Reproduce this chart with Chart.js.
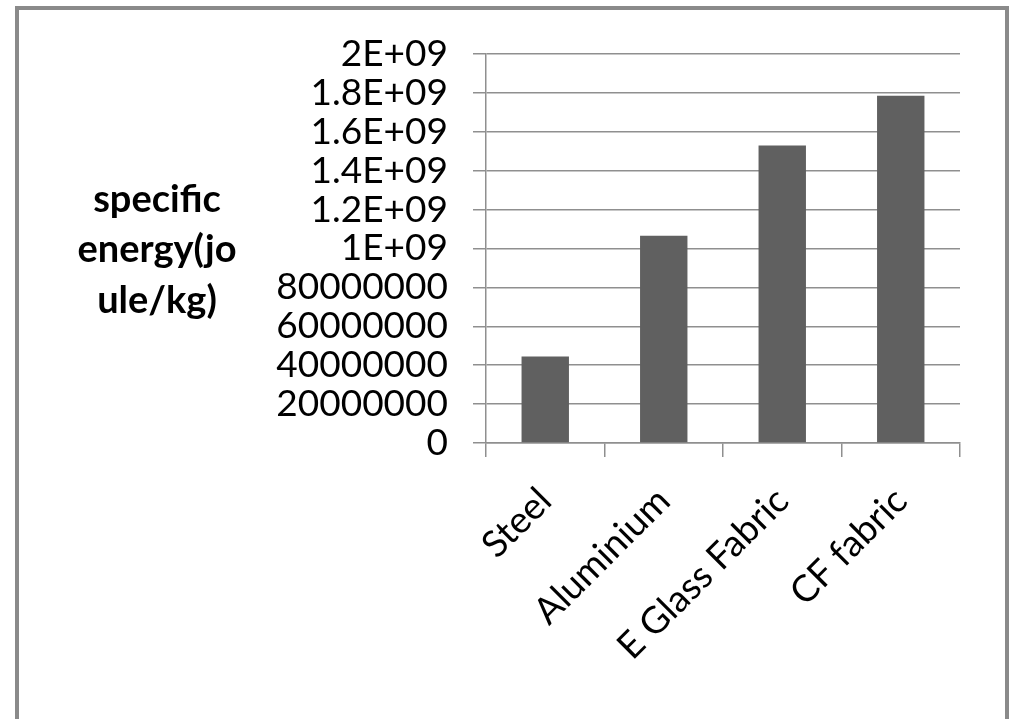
<!DOCTYPE html>
<html>
<head>
<meta charset="utf-8">
<script src="https://cdn.jsdelivr.net/npm/chart.js@4.4.1/dist/chart.umd.min.js"></script>
<style>
  html, body { margin: 0; padding: 0; background: #ffffff; overflow: hidden; }
  #frame { position: absolute; left: 15px; top: 6px; width: 986px; height: 800px;
           border: 4px solid #8a8a8a; border-bottom: none; }
  #wrap { position: absolute; left: 0; top: 0; width: 1026px; height: 719px; }
</style>
</head>
<body>
<div id="frame"></div>
<div id="wrap"><canvas id="c" width="1026" height="719"></canvas></div>
<script>
// ---- data ----
const categories = ["Steel", "Aluminium", "E Glass Fabric", "CF fabric"];
const specificEnergy = [4.45e8, 1.065e9, 1.53e9, 1.785e9];
const yTickLabels = ["0", "20000000", "40000000", "60000000", "80000000",
                     "1E+09", "1.2E+09", "1.4E+09", "1.6E+09", "1.8E+09", "2E+09"];
const yAxisTitle = ["specific", "energy(jo", "ule/kg)"];

const FONT = "Lato, 'Open Sans', sans-serif";
const GRID = "#8f8f8f";

const titlePlugin = {
  id: "yTitle",
  afterDraw(chart) {
    const ctx = chart.ctx;
    ctx.save();
    ctx.fillStyle = "#000";
    ctx.font = "bold 38px " + FONT;
    ctx.textAlign = "center";
    ctx.textBaseline = "alphabetic";
    const baselines = [212, 262, 313];
    yAxisTitle.forEach((t, i) => ctx.fillText(t, 157, baselines[i]));
    ctx.restore();
  }
};

new Chart(document.getElementById("c"), {
  type: "bar",
  data: {
    labels: categories,
    datasets: [{
      data: specificEnergy,
      backgroundColor: "#606060",
      borderWidth: 0,
      categoryPercentage: 1.0,
      barPercentage: 0.4
    }]
  },
  options: {
    responsive: false,
    animation: false,
    devicePixelRatio: 1,
    layout: { padding: { left: 0, right: 66, top: 54, bottom: 0 } },
    plugins: { legend: { display: false }, tooltip: { enabled: false }, title: { display: false } },
    scales: {
      y: {
        min: 0, max: 2e9,
        afterFit(s) { s.width = 486; },
        ticks: {
          stepSize: 2e8,
          autoSkip: false,
          color: "#000",
          padding: 25,
          font: { family: FONT, size: 37 },
          callback: (v, i) => yTickLabels[i]
        },
        grid: { color: GRID, lineWidth: 1.5, tickLength: 13, drawTicks: true },
        border: { color: GRID, width: 1.5 }
      },
      x: {
        afterFit(s) { s.height = 719 - 443; },
        ticks: {
          color: "#000",
          autoSkip: false,
          maxRotation: 45, minRotation: 45,
          padding: 22,
          font: { family: FONT, size: 37 }
        },
        grid: { offset: true, drawOnChartArea: false, color: GRID, lineWidth: 1.5, tickLength: 14 },
        border: { color: GRID, width: 1.5 }
      }
    }
  },
  plugins: [titlePlugin]
});
</script>
</body>
</html>
